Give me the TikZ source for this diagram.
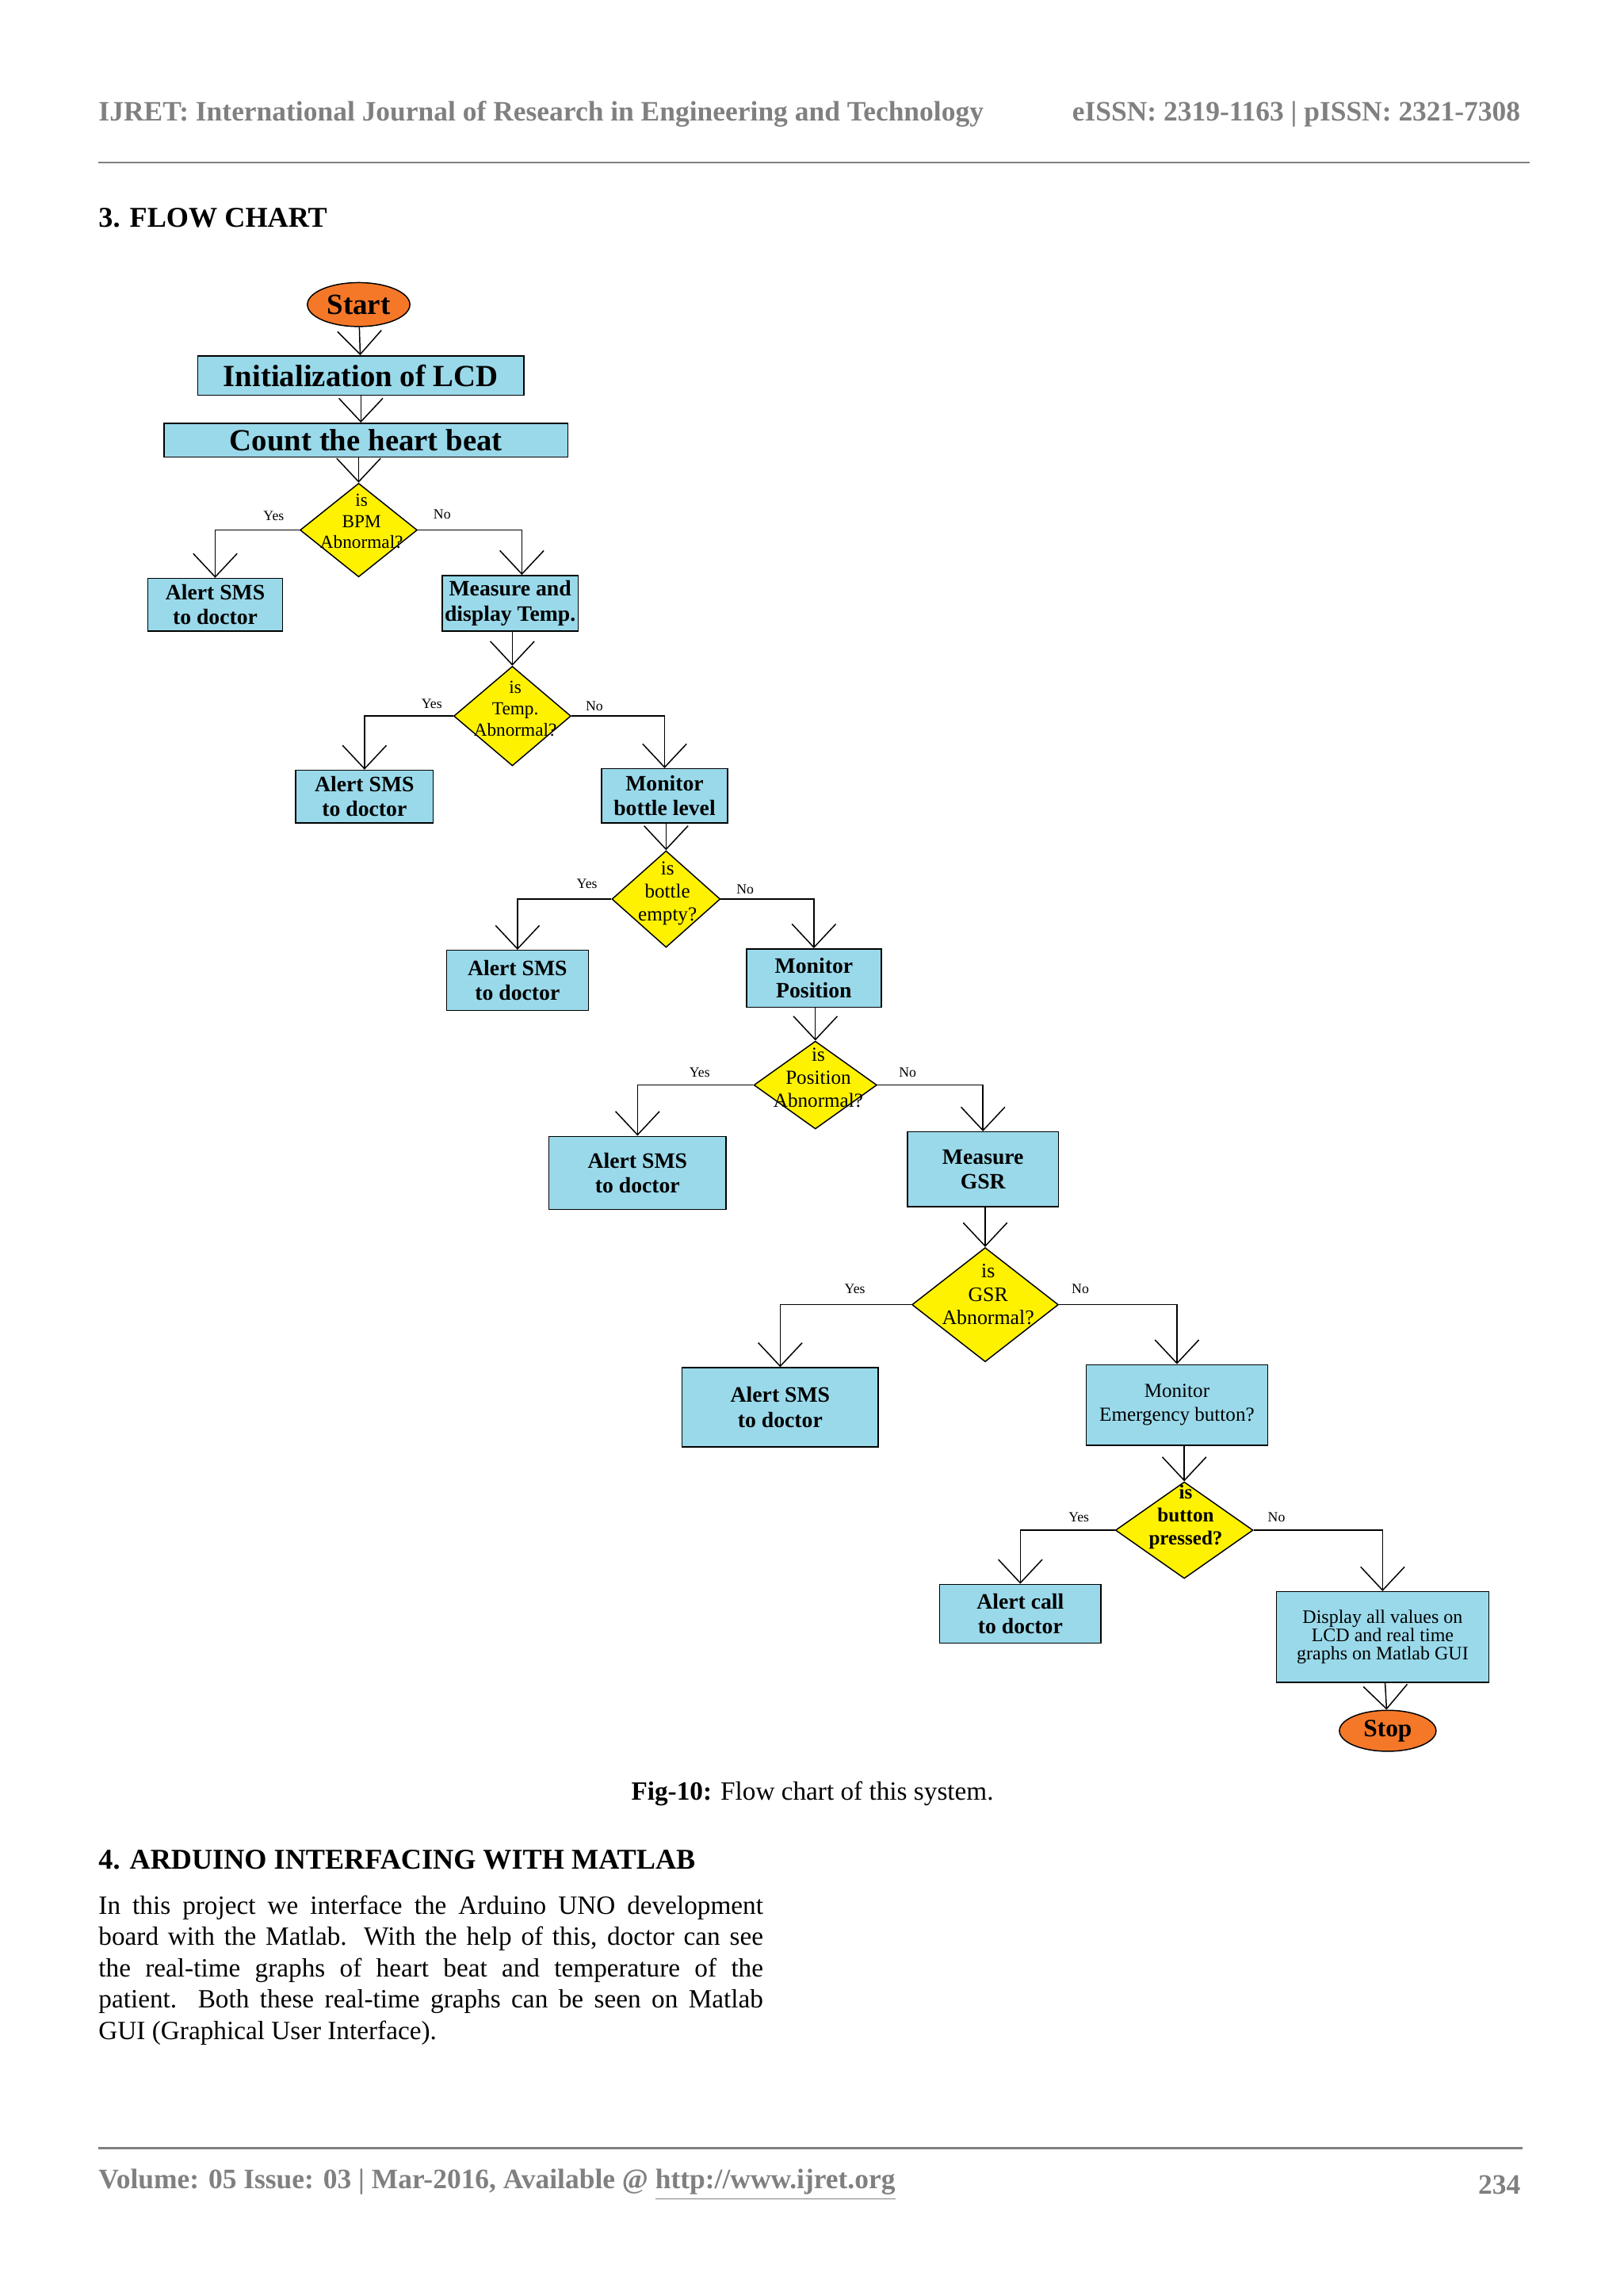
\documentclass[tikz,border=0pt]{standalone}
\usepackage{fontspec}
\setmainfont{Liberation Serif}
\usetikzlibrary{shapes.geometric,arrows.meta}
\definecolor{boxc}{RGB}{153,217,234}
\definecolor{orng}{RGB}{245,120,40}
\definecolor{yel}{RGB}{255,242,0}
\definecolor{hdr}{RGB}{128,128,128}
\begin{document}
\begin{tikzpicture}[x=0.5pt,y=-0.5pt,
 box/.style={draw,fill=boxc,inner sep=0,align=center,font=\fontsize{7.5}{8.5}\selectfont\bfseries},
 big/.style={box,font=\fontsize{10.5}{12}\selectfont\bfseries},
 dia/.style={diamond,draw,fill=yel,inner sep=0},
 dt/.style={align=center,font=\fontsize{6.3}{7.2}\selectfont,inner sep=0},
 ov/.style={ellipse,draw,fill=orng,inner sep=0,font=\fontsize{8.5}{10}\selectfont\bfseries},
 arr/.style={-{Straight Barb[length=8pt,width=15pt,line width=0.4pt]},line width=0.4pt},
 yn/.style={font=\fontsize{4.8}{5.5}\selectfont,inner sep=1pt,above},
 hd/.style={inner sep=0,font=\fontsize{9.6}{11}\selectfont\bfseries,text=hdr}]
\useasboundingbox (0,0) rectangle (1109,1568);
% header
\node[anchor=west,hd] (h1) at (67,78) {IJRET: International Journal of Research in Engineering and Technology};
\node[anchor=east,hd] (h2) at (1039,78) {eISSN: 2319-1163 | pISSN: 2321-7308};
\draw[hdr,line width=0.7pt] (67,111) -- (1045,111);
\node[anchor=west,inner sep=0,font=\fontsize{9.8}{11}\selectfont\bfseries] (s3) at (67,149) {3. FLOW CHART};
% nodes
\node[ov,minimum width=35pt,minimum height=15pt,font=\fontsize{10}{11}\selectfont\bfseries] (start) at (245,208) {Start};
\node[big,minimum width=111.5pt,minimum height=13.5pt] (init) at (246.5,256.5) {Initialization of LCD};
\node[big,minimum width=138pt,minimum height=11.5pt] (count) at (250,300.5) {Count the heart beat};
\node[dia,minimum width=40pt,minimum height=32pt] (d1) at (245,362) {};
\node[dt] (d1t) at (247,356) {is\\BPM\\Abnormal?};
\node[box,minimum width=46pt,minimum height=18pt] (a1) at (147,413) {Alert SMS\\to doctor};
\node[box,minimum width=46.5pt,minimum height=19pt] (m1) at (348.5,412) {Measure and\\display Temp.};
\node[dia,minimum width=40pt,minimum height=34pt] (d2) at (350,489) {};
\node[dt] (d2t) at (352,484) {is\\Temp.\\Abnormal?};
\node[box,minimum width=47pt,minimum height=18pt] (a2) at (249,544) {Alert SMS\\to doctor};
\node[box,minimum width=43pt,minimum height=18.5pt] (b1) at (454,543.5) {Monitor\\bottle level};
\node[dia,minimum width=37pt,minimum height=33pt] (d3) at (455,614) {};
\node[dt,font=\fontsize{6.8}{7.8}\selectfont] (d3t) at (456,610) {is\\bottle\\empty?};
\node[box,minimum width=48.5pt,minimum height=20.5pt] (a3) at (353.5,669.5) {Alert SMS\\to doctor};
\node[box,minimum width=46pt,minimum height=20pt] (p1) at (556,668) {Monitor\\Position};
\node[dia,minimum width=42pt,minimum height=30pt] (d4) at (557,741) {};
\node[dt,font=\fontsize{6.8}{7.8}\selectfont] (d4t) at (559,736) {is\\Position\\Abnormal?};
\node[box,minimum width=60.5pt,minimum height=25pt] (a4) at (435.5,801) {Alert SMS\\to doctor};
\node[box,minimum width=51.5pt,minimum height=25.5pt] (g1) at (671.5,798.5) {Measure\\GSR};
\node[dia,minimum width=50pt,minimum height=39pt] (d5) at (673,891) {};
\node[dt,font=\fontsize{7}{8}\selectfont] (d5t) at (675,884) {is\\GSR\\Abnormal?};
\node[box,minimum width=67pt,minimum height=27pt] (a5) at (533,961) {Alert SMS\\to doctor};
\node[box,minimum width=62pt,minimum height=27.5pt,font=\fontsize{6.8}{8}\selectfont] (e1) at (804,959.5) {Monitor\\Emergency button?};
\node[dia,minimum width=47pt,minimum height=33pt] (d6) at (809,1045) {};
\node[dt,font=\fontsize{6.8}{7.8}\selectfont\bfseries] (d6t) at (810,1036) {is\\button\\pressed?};
\node[box,minimum width=55pt,minimum height=20pt] (a6) at (697,1102) {Alert call\\to doctor};
\node[box,minimum width=72.5pt,minimum height=31pt,font=\fontsize{6.5}{6.2}\selectfont] (disp) at (944.5,1118) {Display all values on\\LCD and real time\\graphs on Matlab GUI};
\node[ov,minimum width=33pt,minimum height=14pt] (stop) at (948,1182) {Stop};
% vertical arrows
\draw[arr] (start) -- (init);
\draw[arr] (init) -- (init|-count.north);
\draw[arr] (count.south-|d1) -- (d1.north);
\draw[arr] (m1.south-|d2) -- (d2.north);
\draw[arr] (b1.south-|d3) -- (d3.north);
\draw[arr] (p1.south-|d4) -- (d4.north);
\draw[arr] (g1.south-|d5) -- (d5.north);
\draw[arr] (e1.south-|d6) -- (d6.north);
\draw[arr] (disp) -- (stop);
% branches
\draw[arr] (d1.west) -| (a1.north);
\draw[arr] (d1.east) -| ([xshift=4]m1.north);
\draw[arr] (d2.west) -| (a2.north);
\draw[arr] (d2.east) -| (b1.north);
\draw[arr] (d3.west) -| (a3.north);
\draw[arr] (d3.east) -| (p1.north);
\draw[arr] (d4.west) -| (a4.north);
\draw[arr] (d4.east) -| (g1.north);
\draw[arr] (d5.west) -| (a5.north);
\draw[arr] (d5.east) -| (e1.north);
\draw[arr] (d6.west) -| (a6.north);
\draw[arr] (d6.east) -| (disp.north);
% yes/no
\node[yn] (y1) at (187,358) {Yes}; \node[yn] (n1) at (302,357) {No};
\node[yn] (y2) at (295,486) {Yes}; \node[yn] (n2) at (406,488) {No};
\node[yn] (y3) at (401,609) {Yes}; \node[yn] (n3) at (509,613) {No};
\node[yn] (y4) at (478,738) {Yes}; \node[yn] (n4) at (620,738) {No};
\node[yn] (y5) at (584,886) {Yes}; \node[yn] (n5) at (738,886) {No};
\node[yn] (y6) at (737,1042) {Yes}; \node[yn] (n6) at (872,1042) {No};
% caption and text
\node[font=\fontsize{9}{11}\selectfont] (cap) at (555,1225) {\textbf{Fig-10:} Flow chart of this system.};
\node[anchor=west,inner sep=0,font=\fontsize{9.8}{11}\selectfont\bfseries] (s4) at (67,1270) {4. ARDUINO INTERFACING WITH MATLAB};
\node[anchor=north west,text width=227pt,align=justify,inner sep=0,font=\fontsize{9}{10.7}\selectfont] (par) at (67,1294) {In this project we interface the Arduino UNO development board with the Matlab. With the help of this, doctor can see\linebreak the real-time graphs of heart beat and temperature of the\linebreak patient. Both these real-time graphs can be seen on Matlab\linebreak GUI (Graphical User Interface).};
% footer
\draw[hdr,line width=0.7pt] (67,1467) -- (1040,1467);
\node[anchor=west,hd] (f1) at (67,1492) {Volume: 05 Issue: 03 | Mar-2016, Available @ \underline{http://www.ijret.org}};
\node[anchor=east,hd] (f2) at (1039,1492) {234};
\end{tikzpicture}
\end{document}
